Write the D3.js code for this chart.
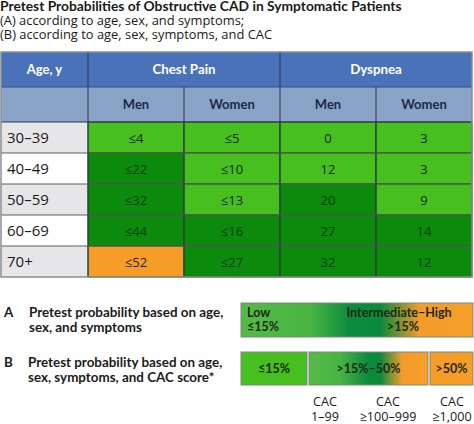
<!DOCTYPE html>
<html>
<head>
<meta charset="utf-8">
<script src="https://cdn.jsdelivr.net/npm/d3@7"></script>
<style>
  body { margin: 0; background: #fff; }
  svg { display: block; font-family: "Open Sans", sans-serif; }
  .b { font-family: Lato, "Open Sans", sans-serif; font-weight: bold; }
</style>
</head>
<body>
<div class="chart"></div>
<script>
const WIDTH = 474;
const HEIGHT = 424;

// table data
var ages = ["30–39", "40–49", "50–59", "60–69", "70+"];
var groups = ["Chest Pain", "Dyspnea"];
var sexes = ["Men", "Women", "Men", "Women"];
var chestMen = ["≤4", "≤22", "≤32", "≤44", "≤52"];
var chestWomen = ["≤5", "≤10", "≤13", "≤16", "≤27"];
var dyspneaMen = ["0", "12", "20", "27", "32"];
var dyspneaWomen = ["3", "3", "9", "14", "12"];
// colour tier of each cell: 0 = low, 1 = intermediate, 2 = high
var chestMenTier = [0, 1, 1, 1, 2];
var chestWomenTier = [0, 0, 0, 1, 1];
var dyspneaMenTier = [0, 0, 1, 1, 1];
var dyspneaWomenTier = [0, 0, 0, 1, 1];

// legend data
var barALabels = ["Low", "≤15%", "Intermediate–High", ">15%"];
var barBSegments = ["≤15%", ">15%–50%", ">50%"];
var cacTop = ["CAC", "CAC", "CAC"];
var cacBottom = ["1–99", "≥100–999", "≥1,000"];

var columns = [chestMen, chestWomen, dyspneaMen, dyspneaWomen];
var tiers = [chestMenTier, chestWomenTier, dyspneaMenTier, dyspneaWomenTier];

var svg = d3.select(".chart").append("svg")
    .attr("width", WIDTH)
    .attr("height", HEIGHT);

var tierColor = d3.scaleOrdinal()
    .domain([0, 1, 2])
    .range(["#46bf1f", "#0b8a0c", "#f59d26"]);

// title
var title = svg.append("g");
title.append("text").attr("class", "b").attr("x", 0).attr("y", 11)
    .attr("font-size", 13.8).attr("fill", "#1a1a1a")
    .text("Pretest Probabilities of Obstructive CAD in Symptomatic Patients");
title.append("text").attr("x", 0).attr("y", 24.5)
    .attr("font-size", 12.9).attr("fill", "#1a1a1a")
    .text("(A) according to age, sex, and symptoms;");
title.append("text").attr("x", 0).attr("y", 38.5)
    .attr("font-size", 12.9).attr("fill", "#1a1a1a")
    .text("(B) according to age, sex, symptoms, and CAC");

// table scales
var tableLeft = 1, ageRight = 88, tableRight = 472;
var headTop = 52, headMid = 87, headBottom = 122, tableBottom = 277;

var x = d3.scaleBand().domain(d3.range(4)).range([ageRight, tableRight]);
var xGroup = d3.scaleBand().domain(groups).range([ageRight, tableRight]);
var y = d3.scaleBand().domain(ages).range([headBottom, tableBottom]);

var table = svg.append("g");

// header rows
table.append("rect").attr("x", tableLeft).attr("y", headTop)
    .attr("width", tableRight - tableLeft).attr("height", headMid - headTop)
    .attr("fill", "#4a72b9");
table.append("rect").attr("x", tableLeft).attr("y", headMid)
    .attr("width", tableRight - tableLeft).attr("height", headBottom - headMid)
    .attr("fill", "#89a4c6");

table.append("text").attr("class", "b")
    .attr("x", (tableLeft + ageRight) / 2).attr("y", (headTop + headMid) / 2 + 4.5)
    .attr("text-anchor", "middle").attr("font-size", 13)
    .attr("fill", "#fff").text("Age, y");

table.selectAll(".group")
    .data(groups)
    .enter().append("text").attr("class", "b")
    .attr("x", function (d) { return xGroup(d) + xGroup.bandwidth() / 2; })
    .attr("y", (headTop + headMid) / 2 + 4.5)
    .attr("text-anchor", "middle").attr("font-size", 13.3)
    .attr("fill", "#fff")
    .text(function (d) { return d; });

table.selectAll(".sex")
    .data(sexes)
    .enter().append("text").attr("class", "b")
    .attr("x", function (d, i) { return x(i) + x.bandwidth() / 2; })
    .attr("y", (headMid + headBottom) / 2 + 4.5)
    .attr("text-anchor", "middle").attr("font-size", 13)
    .attr("fill", "#1b2a48")
    .text(function (d) { return d; });

// age column
table.selectAll(".agebg")
    .data(ages)
    .enter().append("rect")
    .attr("x", tableLeft).attr("y", function (d) { return y(d); })
    .attr("width", ageRight - tableLeft).attr("height", y.bandwidth())
    .attr("fill", function (d, i) { return i % 2 === 0 ? "#e6e6e8" : "#fff"; });

table.selectAll(".age")
    .data(ages)
    .enter().append("text")
    .attr("x", 7).attr("y", function (d) { return y(d) + y.bandwidth() / 2 + 5.5; })
    .attr("font-size", 15).attr("fill", "#1a1a1a")
    .text(function (d) { return d; });

// value cells
var cells = [];
columns.forEach(function (col, c) {
    col.forEach(function (v, r) {
        cells.push({ col: c, age: ages[r], label: v, tier: tiers[c][r] });
    });
});

table.selectAll(".cell")
    .data(cells)
    .enter().append("rect")
    .attr("x", function (d) { return x(d.col); })
    .attr("y", function (d) { return y(d.age); })
    .attr("width", x.bandwidth()).attr("height", y.bandwidth())
    .attr("fill", function (d) { return tierColor(d.tier); })
    .attr("stroke", "#1f5a22").attr("stroke-width", 1);

table.selectAll(".celltext")
    .data(cells)
    .enter().append("text")
    .attr("x", function (d) { return x(d.col) + x.bandwidth() / 2; })
    .attr("y", function (d) { return y(d.age) + y.bandwidth() / 2 + 5; })
    .attr("text-anchor", "middle").attr("font-size", 13)
    .attr("fill", function (d) { return d.tier === 1 ? "#0b3d0e" : "#1c2a14"; })
    .text(function (d) { return d.label; });

// grid lines
table.selectAll(".vline")
    .data(d3.range(4))
    .enter().append("line")
    .attr("x1", function (d) { return x(d); }).attr("x2", function (d) { return x(d); })
    .attr("y1", function (d) { return d % 2 === 0 ? headTop : headMid; })
    .attr("y2", tableBottom)
    .attr("stroke", "#2a3550").attr("stroke-width", 1);
table.append("line")
    .attr("x1", tableLeft).attr("x2", tableRight).attr("y1", headMid).attr("y2", headMid)
    .attr("stroke", "#2f4c80").attr("stroke-width", 1);
table.append("line")
    .attr("x1", tableLeft).attr("x2", tableRight).attr("y1", headBottom).attr("y2", headBottom)
    .attr("stroke", "#2a3550").attr("stroke-width", 1);
table.selectAll(".hline")
    .data(ages.slice(1))
    .enter().append("line")
    .attr("x1", tableLeft).attr("x2", tableRight)
    .attr("y1", function (d) { return y(d); }).attr("y2", function (d) { return y(d); })
    .attr("stroke", "#5a5f5a").attr("stroke-width", 1);
table.append("rect")
    .attr("x", tableLeft).attr("y", headTop)
    .attr("width", tableRight - tableLeft).attr("height", tableBottom - headTop)
    .attr("fill", "none").attr("stroke", "#8a8d92").attr("stroke-width", 1.5);

// legend
var defs = svg.append("defs");
var gradA = defs.append("linearGradient").attr("id", "gradA");
[[0, "#55b947"], [0.3, "#4ab544"], [0.47, "#0c8a3e"], [0.6, "#0b8a3e"], [0.77, "#f39b2a"], [1, "#f7a02a"]]
    .forEach(function (s) { gradA.append("stop").attr("offset", s[0]).attr("stop-color", s[1]); });
var gradB = defs.append("linearGradient").attr("id", "gradB");
[[0, "#55b947"], [0.25, "#4ab544"], [0.5, "#0b8a3e"], [0.6, "#0d8a3e"], [0.78, "#f39b2a"], [1, "#f7a02a"]]
    .forEach(function (s) { gradB.append("stop").attr("offset", s[0]).attr("stop-color", s[1]); });

var legend = svg.append("g");
var barLeft = 241, barRight = 473;

var legendRows = [
    { key: "A", lines: ["Pretest probability based on age,", "sex, and symptoms"], y: 317, tx: 29 },
    { key: "B", lines: ["Pretest probability based on age,", "sex, symptoms, and CAC score*"], y: 367, tx: 28 }
];
legendRows.forEach(function (r) {
    legend.append("text").attr("class", "b").attr("x", 4).attr("y", r.y)
        .attr("font-size", 13.4).attr("fill", "#1a1a1a").text(r.key);
    r.lines.forEach(function (t, i) {
        legend.append("text").attr("class", "b").attr("x", r.tx).attr("y", r.y + i * 15)
            .attr("font-size", 13.4).attr("fill", "#1a1a1a").text(t);
    });
});

// bar A
legend.append("rect").attr("x", barLeft).attr("y", 303)
    .attr("width", barRight - barLeft).attr("height", 34)
    .attr("fill", "url(#gradA)").attr("stroke", "#7a8a7a").attr("stroke-width", 1);
legend.append("text").attr("class", "b").attr("x", barLeft + 6).attr("y", 317)
    .attr("font-size", 12.5).attr("fill", "#1c2a14").text(barALabels[0]);
legend.append("text").attr("class", "b").attr("x", barLeft + 6).attr("y", 331)
    .attr("font-size", 12.5).attr("fill", "#1c2a14").text(barALabels[1]);
legend.append("text").attr("class", "b").attr("x", 399).attr("y", 317).attr("text-anchor", "middle")
    .attr("font-size", 12.5).attr("fill", "#1c2a14").text(barALabels[2]);
legend.append("text").attr("class", "b").attr("x", 403).attr("y", 331).attr("text-anchor", "middle")
    .attr("font-size", 12.5).attr("fill", "#1c2a14").text(barALabels[3]);

// bar B segments (widths in the picture are not proportional to the % ranges)
var segX = d3.scaleOrdinal().domain(barBSegments).range([[241, 307], [309, 428], [430, 473]]);
var segFill = ["#46bf1f", "url(#gradB)", "#f59d26"];

legend.selectAll(".seg")
    .data(barBSegments)
    .enter().append("rect")
    .attr("x", function (d) { return segX(d)[0]; })
    .attr("y", 352)
    .attr("width", function (d) { return segX(d)[1] - segX(d)[0]; })
    .attr("height", 33)
    .attr("fill", function (d, i) { return segFill[i]; })
    .attr("stroke", "#7a8a7a").attr("stroke-width", 1);

legend.selectAll(".segtext")
    .data(barBSegments)
    .enter().append("text").attr("class", "b")
    .attr("x", function (d) { return (segX(d)[0] + segX(d)[1]) / 2; })
    .attr("y", 373)
    .attr("text-anchor", "middle").attr("font-size", 12.5)
    .attr("fill", "#1c2a14")
    .text(function (d) { return d; });

var cacX = [325, 388, 452];
legend.selectAll(".cact")
    .data(cacTop)
    .enter().append("text")
    .attr("x", function (d, i) { return cacX[i]; }).attr("y", 406)
    .attr("text-anchor", "middle").attr("font-size", 12.6).attr("fill", "#1a1a1a")
    .text(function (d) { return d; });
legend.selectAll(".cacb")
    .data(cacBottom)
    .enter().append("text")
    .attr("x", function (d, i) { return cacX[i]; }).attr("y", 420.5)
    .attr("text-anchor", "middle").attr("font-size", 12.6).attr("fill", "#1a1a1a")
    .text(function (d) { return d; });
</script>
</body>
</html>
